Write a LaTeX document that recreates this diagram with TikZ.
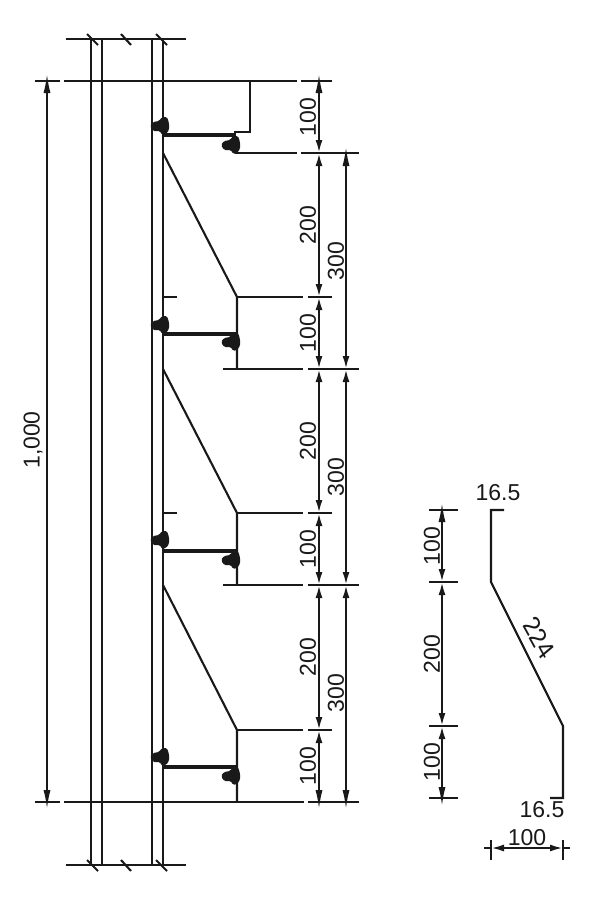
\documentclass[tikz,border=0pt]{standalone}
\usepackage{fontspec}
\setmainfont{Liberation Sans}
\usetikzlibrary{arrows.meta}
\tikzset{
    wall/.style={line width=2.1pt, color=black!90},
    heavy/.style={line width=3.8pt, color=black!90},
    dimline/.style={line width=2.1pt, color=black!90, {Latex[length=13pt,width=7pt]}-{Latex[length=13pt,width=7pt]}},
    dimhalf/.style={line width=2.1pt, color=black!90, -{Latex[length=13pt,width=7pt]}},
    endtip/.style={line width=2.1pt, color=black!90, -{Latex[length=20pt,width=7pt]}},
    dimtext/.style={font=\fontsize{23}{23}\selectfont, inner sep=0pt, color=black!90},
    updim/.style={dimtext, rotate=90},
    bolt/.pic={
        \fill[black!90, rounded corners=1.5pt] (-12,0) -- (-9,-4) -- (-3,-5) -- (0,-9) -- (5,-9) -- (7,-3) -- (7,4) -- (4,8) -- (0,9) -- (-2,5) -- (-9,5) -- cycle;
    }
}
\begin{document}
\begin{tikzpicture}[x=1pt, y=-1pt]
    \useasboundingbox (0, 0) rectangle (600, 900);

    % wall
    \draw[wall] (91, 39) -- (91, 865);
    \draw[wall] (102, 39) -- (102, 865);
    \draw[wall] (152, 39) -- (152, 865);
    \draw[wall] (163, 39) -- (163, 865);
    \draw[wall] (66, 39) -- (186, 39);
    \draw[wall] (66, 865) -- (186, 865);
    \draw[wall] (87, 34) -- (98, 45);
    \draw[wall] (121, 34) -- (131, 45);
    \draw[wall] (156, 34) -- (167, 45);
    \draw[wall] (87, 860) -- (98, 871);
    \draw[wall] (121, 860) -- (131, 871);
    \draw[wall] (156, 860) -- (167, 871);

    % level lines
    \draw[wall] (35, 81) -- (60, 81);
    \draw[wall] (64, 81) -- (297, 81);
    \draw[wall] (301, 81) -- (332, 81);
    \draw[wall] (235, 153) -- (297, 153);
    \draw[wall] (301, 153) -- (359, 153);
    \draw[wall] (163, 297) -- (177, 297);
    \draw[wall] (237, 297) -- (303, 297);
    \draw[wall] (308, 297) -- (332, 297);
    \draw[wall] (223, 369) -- (303, 369);
    \draw[wall] (308, 369) -- (359, 369);
    \draw[wall] (163, 513) -- (177, 513);
    \draw[wall] (237, 513) -- (303, 513);
    \draw[wall] (308, 513) -- (332, 513);
    \draw[wall] (223, 585) -- (303, 585);
    \draw[wall] (308, 585) -- (359, 585);
    \draw[wall] (237, 730) -- (303, 730);
    \draw[wall] (308, 730) -- (332, 730);
    \draw[wall] (35, 802) -- (60, 802);
    \draw[wall] (64, 802) -- (304, 802);
    \draw[wall] (308, 802) -- (359, 802);

    % sheets
    \draw[wall] (250, 81) -- (250, 132) -- (235, 132) -- (235, 153);
    \draw[wall] (163, 153) -- (237, 297) -- (237, 369);
    \draw[wall] (163, 369) -- (237, 513) -- (237, 585);
    \draw[wall] (163, 585) -- (237, 730) -- (237, 802);
    \draw[line width=2.8pt, black!90] (163, 81) -- (163, 153);
    \draw[line width=2.8pt, black!90] (163, 297) -- (163, 369);
    \draw[line width=2.8pt, black!90] (163, 513) -- (163, 585);
    \draw[line width=2.8pt, black!90] (163, 730) -- (163, 767);

    % rails and fixings
    \draw[heavy] (163, 135) -- (235, 135);
    \draw[heavy] (163, 334) -- (237, 334);
    \draw[heavy] (163, 551) -- (237, 551);
    \draw[heavy] (163, 767) -- (237, 767);
    \pic at (162, 126) {bolt};
    \pic at (233, 145) {bolt};
    \pic at (162, 325) {bolt};
    \pic at (233, 342) {bolt};
    \pic at (162, 540) {bolt};
    \pic at (233, 560) {bolt};
    \pic at (162, 757) {bolt};
    \pic at (233, 776) {bolt};

    % overall dimension
    \draw[wall] (47, 90) -- (47, 793);
    \draw[endtip] (47, 93) -- (47, 73);
    \draw[endtip] (47, 790) -- (47, 810);
    \node[updim] (total) at (33, 440) {1,000};

    % first column of dimensions
    \draw[endtip] (319, 93) -- (319, 73);
    \draw[dimhalf] (319, 90) -- (319, 153);
    \draw[dimline] (319, 153) -- (319, 297);
    \draw[dimline] (319, 297) -- (319, 369);
    \draw[dimline] (319, 369) -- (319, 513);
    \draw[dimline] (319, 513) -- (319, 585);
    \draw[dimline] (319, 585) -- (319, 730);
    \draw[dimhalf] (319, 793) -- (319, 730);
    \draw[endtip] (319, 790) -- (319, 810);
    \node[updim] (upA) at (308, 117) {100};
    \node[updim] (midA) at (308, 225) {200};
    \node[updim] (lowA) at (308, 333) {100};
    \node[updim] (midB) at (308, 441) {200};
    \node[updim] (lowB) at (308, 549) {100};
    \node[updim] (midC) at (308, 657) {200};
    \node[updim] (lowC) at (308, 766) {100};

    % second column of dimensions
    \draw[endtip] (346, 166) -- (346, 146);
    \draw[dimhalf] (346, 163) -- (346, 369);
    \draw[dimline] (346, 369) -- (346, 585);
    \draw[dimhalf] (346, 793) -- (346, 585);
    \draw[endtip] (346, 790) -- (346, 810);
    \node[updim] (spanA) at (336, 261) {300};
    \node[updim] (spanB) at (336, 477) {300};
    \node[updim] (spanC) at (336, 693) {300};

    % profile detail
    \draw[wall] (504, 510) -- (491, 510) -- (491, 582) -- (563, 726) -- (563, 798) -- (550, 798);
    \node[dimtext] (lipA) at (498, 493) {16.5};
    \node[dimtext] (lipB) at (542, 810) {16.5};
    \node[dimtext, font=\fontsize{25}{25}\selectfont, rotate=-61, xslant=-0.2, transform shape] (slope) at (539, 638) {224};

    \draw[wall] (429, 510) -- (458, 510);
    \draw[wall] (429, 582) -- (458, 582);
    \draw[wall] (429, 726) -- (458, 726);
    \draw[wall] (429, 798) -- (458, 798);
    \draw[endtip] (442, 522) -- (442, 502);
    \draw[dimhalf] (442, 519) -- (442, 582);
    \draw[dimline] (442, 582) -- (442, 726);
    \draw[dimhalf] (442, 789) -- (442, 726);
    \draw[endtip] (442, 787) -- (442, 807);
    \node[updim] (detA) at (432, 546) {100};
    \node[updim] (detB) at (432, 654) {200};
    \node[updim] (detC) at (432, 762) {100};

    \draw[wall] (491, 840) -- (491, 860);
    \draw[wall] (563, 840) -- (563, 860);
    \draw[dimline] (491, 848) -- (563, 848);
    \draw[wall] (484, 848) -- (491, 848);
    \draw[wall] (563, 848) -- (570, 848);
    \node[dimtext] (width) at (527, 838) {100};
\end{tikzpicture}
\end{document}
